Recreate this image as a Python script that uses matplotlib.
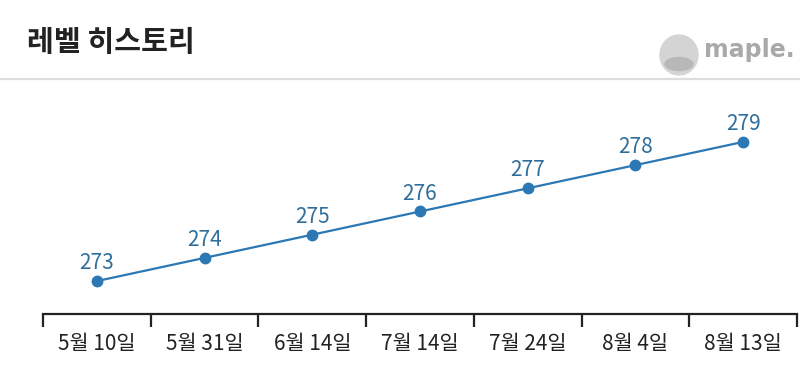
import matplotlib
matplotlib.use("Agg")
import matplotlib.pyplot as plt
from matplotlib.patches import Ellipse
from matplotlib.lines import Line2D

plt.rcParams['font.family'] = ['Noto Sans CJK KR', 'DejaVu Sans']

# ---- data --------------------------------------------------------------
dates  = ["5월 10일", "5월 31일", "6월 14일", "7월 14일", "7월 24일", "8월 4일", "8월 13일"]
levels = [273, 274, 275, 276, 277, 278, 279]

LINE_COLOR  = "#2b78b4"
LABEL_COLOR = "#2f6e9c"

fig = plt.figure(figsize=(8.0, 3.91), dpi=100)
fig.patch.set_facecolor("white")

# header: title, separator, logo
fig.text(27 / 800, 1 - 42 / 391, "레벨 히스토리", fontsize=21, fontweight="bold",
         color="#222222", va="center", ha="left")
fig.add_artist(Line2D([0, 1], [1 - 79 / 391] * 2, color="#dddddd", lw=1.6,
                      transform=fig.transFigure))
fig.add_artist(Ellipse((679 / 800, 1 - 55 / 391), 38 / 800, 40 / 391,
                       transform=fig.transFigure, color="#d4d4d4"))
fig.add_artist(Ellipse((679 / 800, 1 - 64 / 391), 28 / 800, 13 / 391,
                       transform=fig.transFigure, color="#b8b8b8"))
fig.text(704 / 800, 1 - 50 / 391, "maple.", fontsize=17, fontweight="bold",
         color="#a9a9a9", va="center", ha="left", family="DejaVu Sans")

# ---- chart -------------------------------------------------------------
ax = fig.add_axes([43 / 800, 77 / 391, 754 / 800, 234 / 391])
xs = list(range(len(dates)))
ax.plot(xs, levels, color=LINE_COLOR, lw=1.6, marker="o", markersize=7.5,
        zorder=3)
for x, v in zip(xs, levels):
    ax.annotate(str(v), (x, v), xytext=(0, 8.5), textcoords="offset points",
                ha="center", va="baseline", fontsize=15, color=LABEL_COLOR)

ax.set_xlim(-0.5, len(dates) - 0.5)
ax.set_ylim(271.58, 281.67)
ax.set_yticks([])
for s in ["top", "right", "left"]:
    ax.spines[s].set_visible(False)
ax.spines["bottom"].set_color("#222222")
ax.spines["bottom"].set_linewidth(1.6)

ax.set_xticks([i - 0.5 for i in range(len(dates) + 1)])
ax.set_xticklabels([])
ax.tick_params(axis="x", which="major", length=9, width=1.6, color="#222222")
ax.set_xticks(xs, minor=True)
ax.set_xticklabels(dates, minor=True, fontsize=15, color="#222222")
ax.tick_params(axis="x", which="minor", length=0, pad=14)

fig.savefig("out.png", dpi=100, facecolor="white")
